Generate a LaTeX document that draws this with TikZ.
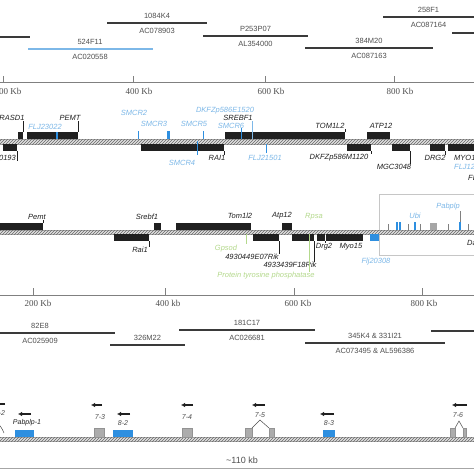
\documentclass[tikz,border=0pt]{standalone}
\usepackage{fontspec}
\setmainfont{Liberation Serif}
\setsansfont{Liberation Sans}
\usetikzlibrary{arrows.meta,patterns,positioning}
\definecolor{gblk}{HTML}{202020}
\definecolor{gblu}{HTML}{2E8FE0}
\definecolor{lblu}{HTML}{7DB8E8}
\definecolor{lgrn}{HTML}{B4D98C}
\definecolor{bacg}{HTML}{3A3A3A}
\definecolor{txtg}{HTML}{505050}

\begin{document}
\begin{tikzpicture}[x=1pt,y=-1pt,>=Latex,
 bac/.style={line width=1.4pt,draw=bacg},
 baclbl/.style={font=\sffamily\fontsize{7.5}{8}\selectfont,text=txtg,inner sep=0},
 chrom/.style={fill=gray!25,draw=gray!70,line width=0.3pt,postaction={pattern=north east lines,pattern color=black!60}},
 gu/.style={anchor=south west,fill=gblk,inner sep=0,outer sep=0,minimum height=7},
 gd/.style={anchor=north west,fill=gblk,inner sep=0,outer sep=0,minimum height=7},
 bm/.style={gu,fill=gblu,minimum height=8,minimum width=1.5},
 gl/.style={font=\sffamily\itshape\fontsize{7.5}{8}\selectfont,text=gblk,inner sep=0},
 bl/.style={gl,text=lblu},
 nl/.style={gl,text=lgrn},
 tick/.style={draw=gblk,line width=0.5pt},
 axis/.style={draw=gray,line width=0.5pt},
 kb/.style={font=\fontsize{9}{10}\selectfont,text=txtg},
 gx/.style={anchor=south west,fill=gray!65,draw=gray!85,line width=0.3pt,inner sep=0,outer sep=0,minimum height=9},
 bx/.style={anchor=south west,fill=gblu,inner sep=0,outer sep=0,minimum height=7},
 xl/.style={font=\sffamily\itshape\fontsize{7}{8}\selectfont,text=gray!60!black,inner sep=0},
 hat/.style={draw=gray!60!black,line width=0.5pt},
 dir/.style={-{Latex[length=4pt,width=4.5pt]},line width=1.3pt,draw=gblk}]
\fill[white] (0,0) rectangle (474,474);
\useasboundingbox (0,0) rectangle (474,474);

\foreach \y/\xa/\xb/\up/\dn in {23/107/207/1084K4/AC078903, 36/203/308/P253P07/AL354000,
  48/305/433/384M20/AC087163, 17/383/474/258F1/AC087164, 37/-20/30//, 33/452/480//,
  333/-35/115/82E8/AC025909, 345/110/185/326M22/, 330/179/315/181C17/AC026681,
  343/305/445/345K4 \& 331I21/AC073495 \& AL596386, 331/431/480//}
 {\draw[bac] (\xa,\y) -- (\xb,\y);
  \node[baclbl] at ({(\xa+\xb)/2},\y-7) {\up};
  \node[baclbl] at ({(\xa+\xb)/2},\y+7.5) {\dn};}
\draw[bac,draw=lblu] (28,49) -- (153,49);
\node[baclbl] at (90,42) {524F11};
\node[baclbl] at (90,56.5) {AC020558};

\draw[axis] (0,82) -- (474,82);
\foreach \x/\lx/\t in {3/8/200 Kb,133/139/400 Kb,265/271/600 Kb,394/400/800 Kb}
 {\draw[axis] (\x,76) -- (\x,82); \node[kb] at (\lx,91) {\t};}

\fill[chrom] (-5,139) rectangle (480,144);
\node[gu,minimum width=5] (rasd1) at (18,139) {};
\node[gl] (rasd1L) at (12,118) {RASD1};
\draw[tick] (rasd1.north east) -- (rasd1.north east |- rasd1L.south);
\node[gu,minimum width=51] (pemt) at (27,139) {};
\node[gl] (pemtL) at (70,118) {PEMT};
\draw[tick] (pemt.north east) -- (pemt.north east |- pemtL.south);
\node[bm,minimum width=2,minimum height=7] (flj23022) at (56,139) {};
\node[bl] at (45,127) {FLJ23022};
\node[bm] (smcr2) at (137.5,139) {};
\node[bl] at (134,113) {SMCR2};
\node[bm,minimum width=3] (smcr3) at (167,139) {};
\node[bl] at (154,124) {SMCR3};
\node[bm] (smcr5) at (202.5,139) {};
\node[bl] at (194,124) {SMCR5};
\node[gu,minimum width=120] (tom1l2) at (225,139) {};
\node[bm,minimum height=11] (smcr6) at (240.5,139) {};
\node[bm,fill=lblu,minimum height=18] (dkfze) at (251.5,139) {};
\node[bl] at (225,111) {DKFZp586E1520};
\node[bl] at (231,126) {SMCR6};
\node[gl] at (238,118) {SREBF1};
\node[gl] (tom1l2L) at (330,126) {TOM1L2};
\draw[tick] (tom1l2.north east) -- (tom1l2.north east |- tom1l2L.south);
\node[gu,minimum width=23] (atp12) at (367,139) {};
\node[gl] at (381,126) {ATP12};

\node[gd,minimum width=14] (flj20193) at (3,144) {};
\node[gl,anchor=east] (flj20193L) at (16,158) {FLJ20193};
\draw[tick] (flj20193.south east) -- (flj20193.south east |- flj20193L.south);
\node[gd,minimum width=83] (rai1) at (141,144) {};
\node[gl] (rai1L) at (217,158) {RAI1};
\draw[tick] (rai1.south east) -- (rai1.south east |- rai1L.north);
\node[bm,anchor=north west,minimum height=14] (smcr4) at (196.5,141) {};
\node[bl] at (182,163) {SMCR4};
\node[bm,anchor=north west,minimum height=9] (flj21501) at (265.5,144) {};
\node[bl] at (265,158) {FLJ21501};
\node[gd,minimum width=24] (dkfzm) at (347,144) {};
\node[gl] (dkfzmL) at (339,158) {DKFZp586M1120};
\draw[tick] (dkfzm.south east) -- (dkfzm.south east |- dkfzmL.north);
\node[gd,minimum width=18] (mgc3048) at (392,144) {};
\node[gl] (mgc3048L) at (394,167) {MGC3048};
\draw[tick] (mgc3048.south east) -- (mgc3048.south east |- mgc3048L.north);
\node[gd,minimum width=15] (drg2) at (430,144) {};
\node[gl] (drg2L) at (435,158) {DRG2};
\draw[tick] (drg2.south east) -- (drg2.south east |- drg2L.north);
\node[gd,minimum width=32] (myo15) at (448,144) {};
\node[gl,anchor=west] at (454,158) {MYO15};
\node[bl,anchor=west] at (454,167) {FLJ12204};
\node[gl,anchor=west] at (468,178) {FLII};

\draw[gray!45,line width=0.4pt] (379,194) rectangle (480,255);
\fill[chrom] (-5,230) rectangle (480,234);
\node[gu,minimum width=48] (pemtm) at (-5,230) {};
\node[gl] (pemtmL) at (37,217) {Pemt};
\draw[tick] (pemtm.north east) -- (pemtm.north east |- pemtmL.south);
\node[gu,minimum width=7] (srebf1m) at (154,230) {};
\node[gl] at (147,217) {Srebf1};
\node[gu,minimum width=75] (tom1l2m) at (176,230) {};
\node[gl] at (240,216) {Tom1l2};
\node[gu,minimum width=10] (atp12m) at (282,230) {};
\node[gl] at (282,216) {Atp12};
\node[nl] at (314,217) {Rpsa};
\foreach \x in {388,408,420,448,468} \draw[tick,draw=gray] (\x,224) -- (\x,230);
\foreach \x in {397,400,415} \node[bm,minimum width=2] at (\x-1,230) {};
\node[bm,minimum width=2] (pabplp) at (459,230) {};
\node[gu,fill=gray!70,minimum width=7] at (430,230) {};
\node[bl] at (415,216) {Ubi};
\node[bl] (pabplpL) at (448,207) {Pabplp};
\draw[tick,draw=gray] (pabplp.north) -- (pabplp.north |- pabplpL.south);
\node[gl,anchor=west] at (467,243) {Dazl};

\node[gd,minimum width=35] (rai1m) at (114,234) {};
\node[gl] (rai1mL) at (140,250) {Rai1};
\draw[tick] (rai1m.south east) -- (rai1m.south east |- rai1mL.north);
\node[gd,fill=lgrn,minimum width=1.5,minimum height=10] (gpsod) at (245.5,234) {};
\node[nl] at (226,249) {Gpsod};
\node[gd,minimum width=26] (rik07) at (253,234) {};
\node[gl] (rik07L) at (252,257) {4930449E07Rik};
\draw[tick] (rik07.south east) -- (rik07.south east |- rik07L.north);
\node[gd,minimum width=22] (rik18) at (292,234) {};
\node[gl] (rik18L) at (290,265) {4933439F18Rik};
\draw[tick] (rik18.south east) -- (rik18.south east |- rik18L.north);
\coordinate (ptp) at (309,234);
\node[nl] (ptpL) at (266,276) {Protein tyrosine phosphatase};
\draw[draw=lgrn,line width=0.6pt] (ptp) -- (ptp |- ptpL.north);
\node[gd,minimum width=8] (drg2m) at (317,234) {};
\node[gl] (drg2mL) at (324,247) {Drg2};
\draw[tick] (drg2m.south east) -- (drg2m.south east |- drg2mL.north);
\node[gd,minimum width=37] (myo15m) at (326,234) {};
\node[gl] at (351,247) {Myo15};
\node[gd,fill=gblu,minimum width=9] (flj20308) at (370,234) {};
\node[bl] at (376,262) {Flj20308};

\draw[axis] (0,295) -- (474,295);
\foreach \x/\lx/\t in {33/38/200 Kb,165/168/400 kb,294/298/600 Kb,422/424/800 Kb}
 {\draw[axis] (\x,288) -- (\x,295); \node[kb] at (\lx,303) {\t};}

\fill[chrom] (-5,437) rectangle (480,441);
\node[bx,minimum width=19] (p1) at (15,437) {};
\node[xl,text=gblk] (p1L) at (27,423) {Pabplp-1};
\node[gx,minimum width=10] (e73) at (94,437) {};
\node[xl] (e73L) at (100,417) {7-3};
\node[bx,minimum width=20] (e82) at (113,437) {};
\node[xl] (e82L) at (123,423) {8-2};
\node[gx,minimum width=10] (e74) at (182,437) {};
\node[xl] (e74L) at (187,417) {7-4};
\node[gx,minimum width=7] (e75a) at (245,437) {};
\node[gx,minimum width=5] (e75b) at (269,437) {};
\coordinate (h75) at (260,420);
\draw[hat] (e75a.north east) -- (h75) -- (e75b.north west);
\node[xl] (e75L) at (260,415) {7-5};
\node[bx,minimum width=12] (e83) at (323,437) {};
\node[xl] (e83L) at (329,423) {8-3};
\node[gx,minimum width=5] (e76a) at (450,437) {};
\node[gx,minimum width=3] (e76b) at (463,437) {};
\coordinate (h76) at (459,421);
\draw[hat] (e76a.north east) -- (h76) -- (e76b.north west);
\node[xl] (e76L) at (458,415) {7-6};
\node[xl] (e72L) at (0,413) {7-2};
\coordinate (h72) at (-5,421);
\draw[hat] (h72) to[bend left=15] (4,433);
\foreach \xa/\xb/\y in {5/-8/404,31/18/414,102/91/405,130/117/414,193/181/405,265/252/405,334/320/414,467/452/405}
 \draw[dir] (\xa,\y) -- (\xb,\y);

\node[font=\sffamily\fontsize{9}{10}\selectfont,text=txtg] at (242,460) {\textasciitilde110 kb};
\draw[axis,draw=gray!70] (0,468) -- (474,468);
\end{tikzpicture}
\end{document}
